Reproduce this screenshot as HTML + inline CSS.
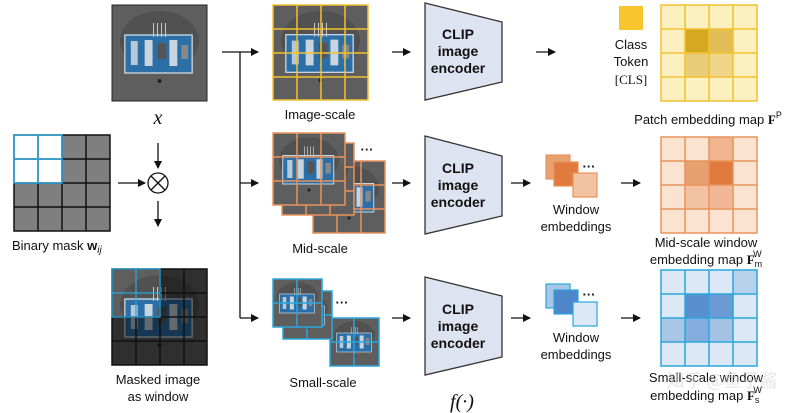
<!DOCTYPE html>
<html><head><meta charset="utf-8"><style>
html,body{margin:0;padding:0;background:#fff;}
svg{display:block;}
text{font-family:"Liberation Sans",sans-serif;font-size:13px;fill:#111;}
.b{font-weight:bold;font-size:14px;}
</style></head><body>
<svg width="803" height="413" viewBox="0 0 803 413" xmlns="http://www.w3.org/2000/svg" xmlns:xlink="http://www.w3.org/1999/xlink">
<defs>
<symbol id="ph" viewBox="0 0 96 96" preserveAspectRatio="none">
<rect width="96" height="96" fill="#5e5e5e" stroke="none"/>
<ellipse cx="48" cy="36" rx="40" ry="30" fill="#515151" stroke="none"/>
<rect x="13" y="30" width="68" height="38" fill="#2c6fa6" stroke="#d8e4ee" stroke-width="1.2"/>
<rect x="19" y="36" width="7" height="24" fill="#b8c8d6" stroke="none"/>
<rect x="33" y="35" width="8" height="26" fill="#c8d4de" stroke="none"/>
<rect x="46" y="38" width="9" height="16" fill="#555" stroke="none"/>
<rect x="58" y="35" width="8" height="26" fill="#c8d4de" stroke="none"/>
<rect x="70" y="40" width="7" height="14" fill="#888" stroke="none"/>
<line x1="42" y1="18" x2="42" y2="32" stroke="#ccc" stroke-width="1"/><line x1="46" y1="18" x2="46" y2="32" stroke="#ccc" stroke-width="1"/><line x1="50" y1="18" x2="50" y2="32" stroke="#ccc" stroke-width="1"/><line x1="54" y1="18" x2="54" y2="32" stroke="#ccc" stroke-width="1"/>
<circle cx="48" cy="76" r="2" fill="#222" stroke="none"/>
</symbol>
<marker id="ar" markerWidth="8" markerHeight="8" refX="7" refY="4" orient="auto" markerUnits="userSpaceOnUse"><path d="M0,0 L8,4 L0,8 z" fill="#111"/></marker>
</defs>

<!-- x image -->
<use xlink:href="#ph" x="112" y="5" width="95" height="96"/>
<rect x="112" y="5" width="95" height="96" fill="none" stroke="#222" stroke-width="1"/>
<text x="158" y="124" text-anchor="middle" style="font-family:'Liberation Serif',serif;font-style:italic;font-size:20px">x</text>

<!-- binary mask -->
<rect x="14" y="135" width="96" height="96" fill="#7f7f7f"/>
<rect x="14" y="135" width="48" height="48" fill="#fff"/>
<g stroke="#111" stroke-width="1.5">
<line x1="14" y1="159" x2="110" y2="159"/><line x1="14" y1="183" x2="110" y2="183"/><line x1="14" y1="207" x2="110" y2="207"/>
<line x1="38" y1="135" x2="38" y2="231"/><line x1="62" y1="135" x2="62" y2="231"/><line x1="86" y1="135" x2="86" y2="231"/>
<rect x="14" y="135" width="96" height="96" fill="none"/>
</g>
<g stroke="#2aa7dc" stroke-width="1.5" fill="none">
<rect x="14" y="135" width="48" height="48"/><line x1="14" y1="159" x2="62" y2="159"/><line x1="38" y1="135" x2="38" y2="183"/>
</g>
<text x="12" y="250">Binary mask <tspan font-weight="bold">w</tspan><tspan font-style="italic" font-size="10" dy="3">ij</tspan></text>

<line x1="118" y1="183" x2="145" y2="183" stroke="#111" stroke-width="1.3" marker-end="url(#ar)"/>
<circle cx="158" cy="183" r="10" fill="#fff" stroke="#111" stroke-width="1.3"/>
<line x1="151" y1="176" x2="165" y2="190" stroke="#111" stroke-width="1.3"/><line x1="165" y1="176" x2="151" y2="190" stroke="#111" stroke-width="1.3"/>
<line x1="158" y1="143" x2="158" y2="168" stroke="#111" stroke-width="1.3" marker-end="url(#ar)"/>
<line x1="158" y1="201" x2="158" y2="226" stroke="#111" stroke-width="1.3" marker-end="url(#ar)"/>

<!-- masked image -->
<use xlink:href="#ph" x="112" y="269" width="95" height="96"/>
<path d="M160,269 H207 V365 H112 V317 H160 Z" fill="#000" opacity="0.5"/>
<g stroke="#111" stroke-width="1.5" fill="none">
<line x1="112" y1="317" x2="207" y2="317"/><line x1="112" y1="341" x2="207" y2="341"/><line x1="160" y1="293" x2="207" y2="293"/>
<line x1="160" y1="269" x2="160" y2="365"/><line x1="184" y1="269" x2="184" y2="365"/><line x1="136" y1="317" x2="136" y2="365"/>
<rect x="112" y="269" width="95" height="96"/>
</g>
<g stroke="#2aa7dc" stroke-width="1.3" fill="none"><rect x="112" y="269" width="48" height="48"/><line x1="112" y1="293" x2="160" y2="293"/><line x1="136" y1="269" x2="136" y2="317"/></g>
<text x="158" y="384" text-anchor="middle">Masked image</text>
<text x="158" y="401" text-anchor="middle">as window</text>

<!-- connectors -->
<g stroke="#111" stroke-width="1.3" fill="none">
<line x1="222" y1="52" x2="240" y2="52"/><line x1="240" y1="52" x2="240" y2="318"/>
<line x1="240" y1="52" x2="258" y2="52" marker-end="url(#ar)"/>
<line x1="240" y1="183" x2="258" y2="183" marker-end="url(#ar)"/>
<line x1="240" y1="318" x2="258" y2="318" marker-end="url(#ar)"/>
<line x1="392" y1="52" x2="410" y2="52" marker-end="url(#ar)"/>
<line x1="392" y1="183" x2="410" y2="183" marker-end="url(#ar)"/>
<line x1="392" y1="318" x2="410" y2="318" marker-end="url(#ar)"/>
<line x1="536" y1="52" x2="555" y2="52" marker-end="url(#ar)"/>
<line x1="511" y1="183" x2="530" y2="183" marker-end="url(#ar)"/>
<line x1="511" y1="318" x2="530" y2="318" marker-end="url(#ar)"/>
<line x1="621" y1="183" x2="640" y2="183" marker-end="url(#ar)"/>
<line x1="621" y1="318" x2="640" y2="318" marker-end="url(#ar)"/>
</g>

<!-- image-scale -->
<use xlink:href="#ph" x="273" y="5" width="95" height="95"/>
<g stroke="#f2c12e" stroke-width="1.5" fill="none">
<rect x="273" y="5" width="95" height="95"/>
<line x1="297" y1="5" x2="297" y2="100"/><line x1="321" y1="5" x2="321" y2="100"/><line x1="345" y1="5" x2="345" y2="100"/>
<line x1="273" y1="29" x2="368" y2="29"/><line x1="273" y1="53" x2="368" y2="53"/><line x1="273" y1="77" x2="368" y2="77"/>
</g>
<text x="320" y="119" text-anchor="middle">Image-scale</text>

<!-- mid-scale -->
<use xlink:href="#ph" x="313" y="161" width="72" height="72"/>
<g stroke="#e8935a" stroke-width="1.5" fill="none">
<rect x="313" y="161" width="72" height="72"/><line x1="337" y1="161" x2="337" y2="233"/><line x1="361" y1="161" x2="361" y2="233"/><line x1="313" y1="185" x2="385" y2="185"/><line x1="313" y1="209" x2="385" y2="209"/></g>
<use xlink:href="#ph" x="282" y="143" width="72" height="72"/>
<g stroke="#e8935a" stroke-width="1.5" fill="none">
<rect x="282" y="143" width="72" height="72"/><line x1="306" y1="143" x2="306" y2="215"/><line x1="330" y1="143" x2="330" y2="215"/><line x1="282" y1="167" x2="354" y2="167"/><line x1="282" y1="191" x2="354" y2="191"/></g>
<use xlink:href="#ph" x="273" y="133" width="72" height="72"/>
<g stroke="#e8935a" stroke-width="1.5" fill="none">
<rect x="273" y="133" width="72" height="72"/><line x1="297" y1="133" x2="297" y2="205"/><line x1="321" y1="133" x2="321" y2="205"/><line x1="273" y1="157" x2="345" y2="157"/><line x1="273" y1="181" x2="345" y2="181"/>
</g>
<text x="367" y="154" text-anchor="middle" font-weight="bold">···</text>
<text x="320" y="253" text-anchor="middle">Mid-scale</text>

<!-- small-scale -->
<use xlink:href="#ph" x="330" y="318" width="49" height="48"/>
<g stroke="#2aa7dc" stroke-width="1.5" fill="none">
<rect x="330" y="318" width="49" height="48"/><line x1="354" y1="318" x2="354" y2="366"/><line x1="330" y1="342" x2="379" y2="342"/></g>
<use xlink:href="#ph" x="283" y="291" width="49" height="48"/>
<g stroke="#2aa7dc" stroke-width="1.5" fill="none">
<rect x="283" y="291" width="49" height="48"/><line x1="307" y1="291" x2="307" y2="339"/><line x1="283" y1="315" x2="332" y2="315"/></g>
<use xlink:href="#ph" x="273" y="279" width="49" height="48"/>
<g stroke="#2aa7dc" stroke-width="1.5" fill="none">
<rect x="273" y="279" width="49" height="48"/><line x1="297" y1="279" x2="297" y2="327"/><line x1="273" y1="303" x2="322" y2="303"/>
</g>
<text x="342" y="307" text-anchor="middle" font-weight="bold">···</text>
<text x="323" y="387" text-anchor="middle">Small-scale</text>

<!-- encoders -->
<g fill="#dde3f0" stroke="#333" stroke-width="1.3">
<polygon points="425,3 502,22 502,82 425,100"/>
<polygon points="425,136 502,156 502,216 425,234"/>
<polygon points="425,277 502,296 502,357 425,375"/>
</g>
<g text-anchor="middle">
<text class="b" x="458" y="39">CLIP</text><text class="b" x="458" y="56">image</text><text class="b" x="458" y="73">encoder</text>
<text class="b" x="458" y="173">CLIP</text><text class="b" x="458" y="190">image</text><text class="b" x="458" y="207">encoder</text>
<text class="b" x="458" y="314">CLIP</text><text class="b" x="458" y="331">image</text><text class="b" x="458" y="348">encoder</text>
</g>
<text x="462" y="408" text-anchor="middle" style="font-family:'Liberation Serif',serif;font-style:italic;font-size:20px">f(·)</text>

<!-- window embeddings -->
<g stroke="#e8935a" stroke-width="1.2">
<rect x="546" y="155" width="24" height="24" fill="#e9a070"/>
<rect x="554" y="162" width="24" height="24" fill="#e07a3e"/>
<rect x="573" y="173" width="24" height="24" fill="#f3c2a2"/>
</g>
<text x="589" y="171" text-anchor="middle" font-weight="bold">···</text>
<text x="576" y="214" text-anchor="middle">Window</text>
<text x="576" y="231" text-anchor="middle">embeddings</text>
<g stroke="#2aa7dc" stroke-width="1.2">
<rect x="546" y="284" width="24" height="24" fill="#a9c6e6"/>
<rect x="554" y="290" width="24" height="24" fill="#4f86c9"/>
<rect x="573" y="302" width="24" height="24" fill="#dce8f5"/>
</g>
<text x="589" y="299" text-anchor="middle" font-weight="bold">···</text>
<text x="576" y="342" text-anchor="middle">Window</text>
<text x="576" y="359" text-anchor="middle">embeddings</text>

<!-- class token -->
<rect x="619" y="6" width="24" height="24" fill="#f7c62f"/>
<text x="631" y="49" text-anchor="middle">Class</text>
<text x="631" y="66" text-anchor="middle">Token</text>
<text x="631" y="84" text-anchor="middle" style="font-family:'Liberation Serif',serif;font-size:13px">[CLS]</text>

<!-- yellow map -->
<rect x="661" y="5" width="96" height="96" fill="#fdf0c0"/>
<rect x="685" y="29" width="24" height="24" fill="#d4a820"/><rect x="709" y="29" width="24" height="24" fill="#e0be55"/>
<rect x="685" y="53" width="24" height="24" fill="#e9cd78"/><rect x="709" y="53" width="24" height="24" fill="#eed58a"/>
<g stroke="#f2c12e" stroke-width="1.5" fill="none"><rect x="661" y="5" width="96" height="96"/>
<line x1="685" y1="5" x2="685" y2="101"/><line x1="709" y1="5" x2="709" y2="101"/><line x1="733" y1="5" x2="733" y2="101"/>
<line x1="661" y1="29" x2="757" y2="29"/><line x1="661" y1="53" x2="757" y2="53"/><line x1="661" y1="77" x2="757" y2="77"/></g>
<text x="708" y="124" text-anchor="middle">Patch embedding map <tspan font-weight="bold" style="font-family:'Liberation Serif',serif">F</tspan><tspan font-size="9" dy="-6">P</tspan></text>

<!-- orange map -->
<rect x="661" y="137" width="96" height="96" fill="#fbe3d2"/>
<rect x="709" y="137" width="24" height="24" fill="#f0b48e"/>
<rect x="685" y="161" width="24" height="24" fill="#e9a070"/><rect x="709" y="161" width="24" height="24" fill="#e07a3e"/>
<rect x="685" y="185" width="24" height="24" fill="#f3c2a2"/><rect x="709" y="185" width="24" height="24" fill="#f0b896"/>
<g stroke="#e8935a" stroke-width="1.5" fill="none"><rect x="661" y="137" width="96" height="96"/>
<line x1="685" y1="137" x2="685" y2="233"/><line x1="709" y1="137" x2="709" y2="233"/><line x1="733" y1="137" x2="733" y2="233"/>
<line x1="661" y1="161" x2="757" y2="161"/><line x1="661" y1="185" x2="757" y2="185"/><line x1="661" y1="209" x2="757" y2="209"/></g>
<text x="706" y="247" text-anchor="middle">Mid-scale window</text>
<text x="706" y="264" text-anchor="middle">embedding map <tspan font-weight="bold" style="font-family:'Liberation Serif',serif">F</tspan><tspan font-size="9" dy="3">m</tspan><tspan font-size="9" dx="-9" dy="-10">W</tspan></text>

<!-- blue map -->
<rect x="661" y="270" width="96" height="96" fill="#dce8f5"/>
<rect x="733" y="270" width="24" height="24" fill="#b8d2ec"/>
<rect x="685" y="294" width="24" height="24" fill="#5a8fcf"/><rect x="709" y="294" width="24" height="24" fill="#6c9bd4"/>
<rect x="661" y="318" width="24" height="24" fill="#a9c6e6"/><rect x="685" y="318" width="24" height="24" fill="#84acdc"/><rect x="709" y="318" width="24" height="24" fill="#a4c2e4"/>
<g stroke="#2aa7dc" stroke-width="1.5" fill="none"><rect x="661" y="270" width="96" height="96"/>
<line x1="685" y1="270" x2="685" y2="366"/><line x1="709" y1="270" x2="709" y2="366"/><line x1="733" y1="270" x2="733" y2="366"/>
<line x1="661" y1="294" x2="757" y2="294"/><line x1="661" y1="318" x2="757" y2="318"/><line x1="661" y1="342" x2="757" y2="342"/></g>
<text x="706" y="382" text-anchor="middle">Small-scale window</text>
<text x="706" y="400" text-anchor="middle">embedding map <tspan font-weight="bold" style="font-family:'Liberation Serif',serif">F</tspan><tspan font-size="9" dy="3">s</tspan><tspan font-size="9" dx="-6" dy="-10">W</tspan></text>
<text x="722" y="387" text-anchor="middle" style="font-family:'Noto Sans CJK SC',sans-serif;font-size:18px;fill:#ccc;opacity:0.5">知乎 @鱼子酱</text>
</svg>
</body></html>
